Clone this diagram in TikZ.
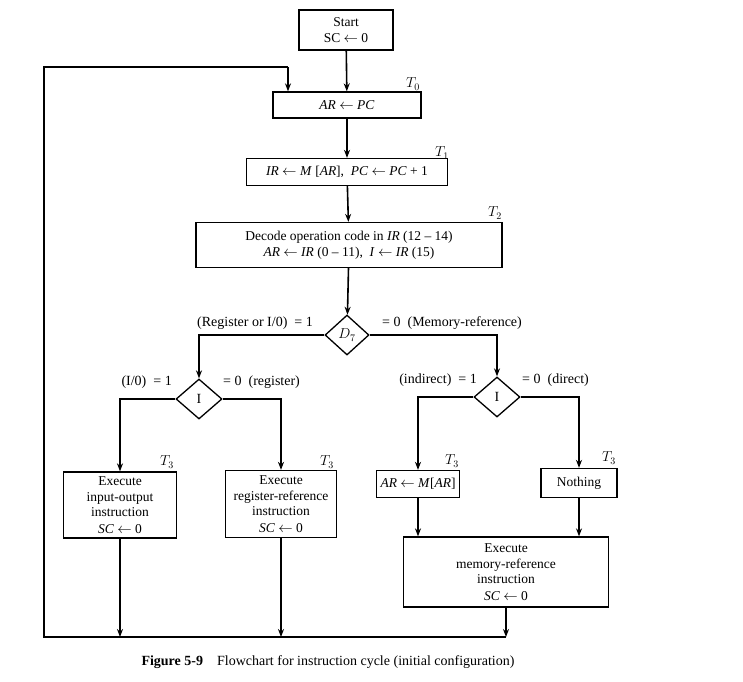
\documentclass[tikz,border=0pt]{standalone}
\usepackage{fontspec}
\setmainfont{Liberation Serif}
\usetikzlibrary{shapes.geometric,arrows.meta}
\begin{document}
\begin{tikzpicture}[x=1pt,y=-1pt,
  box/.style={draw,line width=1.3pt,rectangle,align=center,inner sep=1pt,font=\fontsize{13.5}{15.5}\selectfont},
  dia/.style={draw,line width=1.3pt,diamond,inner sep=0pt,font=\fontsize{14}{15}\selectfont},
  ln/.style={line width=1.6pt},
  arr/.style={line width=1.6pt,-{Stealth[length=8pt,width=6pt]}},
  lab/.style={font=\fontsize{14}{15}\selectfont,inner sep=0pt},
  tl/.style={font=\fontsize{14}{15}\selectfont,inner sep=0pt}]
\useasboundingbox (0,0) rectangle (743,681);
\node[box,minimum width=94pt,minimum height=40pt] (start) at (346,30) {Start\\SC $\leftarrow$ 0};
\node[box,minimum width=148pt,minimum height=26pt] (ar) at (347,105) {\textit{AR} $\leftarrow$ \textit{PC}};
\node[box,minimum width=201pt,minimum height=27pt] (ir) at (347,172) {\textit{IR} $\leftarrow$ \textit{M} [\textit{AR}],\enspace \textit{PC} $\leftarrow$ \textit{PC} + 1};
\node[box,minimum width=306pt,minimum height=45pt] (dec) at (349,245) {Decode operation code in \textit{IR} (12 -- 14)\\\textit{AR} $\leftarrow$ \textit{IR} (0 -- 11),\enspace \textit{I} $\leftarrow$ \textit{IR} (15)};
\node[dia,minimum width=44pt,minimum height=40pt] (d7) at (347,335) {$D_7$};
\node[dia,minimum width=46pt,minimum height=40pt] (il) at (199,399) {I};
\node[dia,minimum width=46pt,minimum height=40pt] (ir2) at (497,397) {I};
\node[box,minimum width=113pt,minimum height=66pt] (io) at (120,505) {Execute\\input-output\\instruction\\[1pt]\textit{SC} $\leftarrow$ 0};
\node[box,minimum width=111pt,minimum height=67pt] (rr) at (281,504) {Execute\\register-reference\\instruction\\[1pt]\textit{SC} $\leftarrow$ 0};
\node[box,minimum width=83pt,minimum height=27pt] (arm) at (418,484) {\textit{AR} $\leftarrow$ \textit{M}[\textit{AR}]};
\node[box,minimum width=76pt,minimum height=29pt] (no) at (579,483) {Nothing};
\node[box,minimum width=205pt,minimum height=70pt] (mem) at (506,572) {Execute\\memory-reference\\instruction\\[1pt]\textit{SC} $\leftarrow$ 0};
\node[tl] (t0) at (413,84) {$T_0$};
\node[tl] (t1) at (442,153) {$T_1$};
\node[tl] (t2) at (495,213) {$T_2$};
\node[tl] (t3a) at (167,462) {$T_3$};
\node[tl] (t3b) at (327,462) {$T_3$};
\node[tl] (t3c) at (452,461) {$T_3$};
\node[tl] (t3d) at (609,458) {$T_3$};
\node[lab,anchor=east] (l1) at (313,323) {(Register or I/0)\enspace = 1};
\node[lab,anchor=west] (l2) at (382,323) {= 0\enspace (Memory-reference)};
\node[lab,anchor=east] (l3) at (172,382) {(I/0)\enspace = 1};
\node[lab,anchor=west] (l4) at (223,382) {= 0\enspace (register)};
\node[lab,anchor=east] (l5) at (477,380) {(indirect)\enspace = 1};
\node[lab,anchor=west] (l6) at (522,380) {= 0\enspace (direct)};
\node[font=\fontsize{14}{15}\selectfont,inner sep=0pt] (cap) at (328,662) {\textbf{Figure 5-9}\quad Flowchart for instruction cycle (initial configuration)};
\coordinate (bl) at (44,637);
\coordinate (tl0) at (44,67);
\coordinate (tr0) at (288,67);
\coordinate (br) at (506,637);
\draw[arr] (start) -- (ar);
\draw[arr] (ar) -- (ir);
\draw[arr] (ir) -- (dec);
\draw[arr] (dec) -- (d7);
\draw[arr] (d7.west) -| (il.north);
\draw[arr] (d7.east) -| (ir2.north);
\draw[arr] (il.west) -| (io.north);
\draw[arr] (il.east) -| (rr.north);
\draw[arr] (ir2.west) -| (arm.north);
\draw[arr] (ir2.east) -| (no.north);
\draw[arr] (arm.south) -- (arm.south |- mem.north);
\draw[arr] (no.south) -- (no.south |- mem.north);
\draw[arr] (io.south) -- (io.south |- bl);
\draw[arr] (rr.south) -- (rr.south |- bl);
\draw[arr] (mem.south) -- (br);
\draw[ln] (br) -- (bl) -- (tl0) -- (tr0);
\draw[arr] (tr0) -- (tr0 |- ar.north);
\end{tikzpicture}
\end{document}
